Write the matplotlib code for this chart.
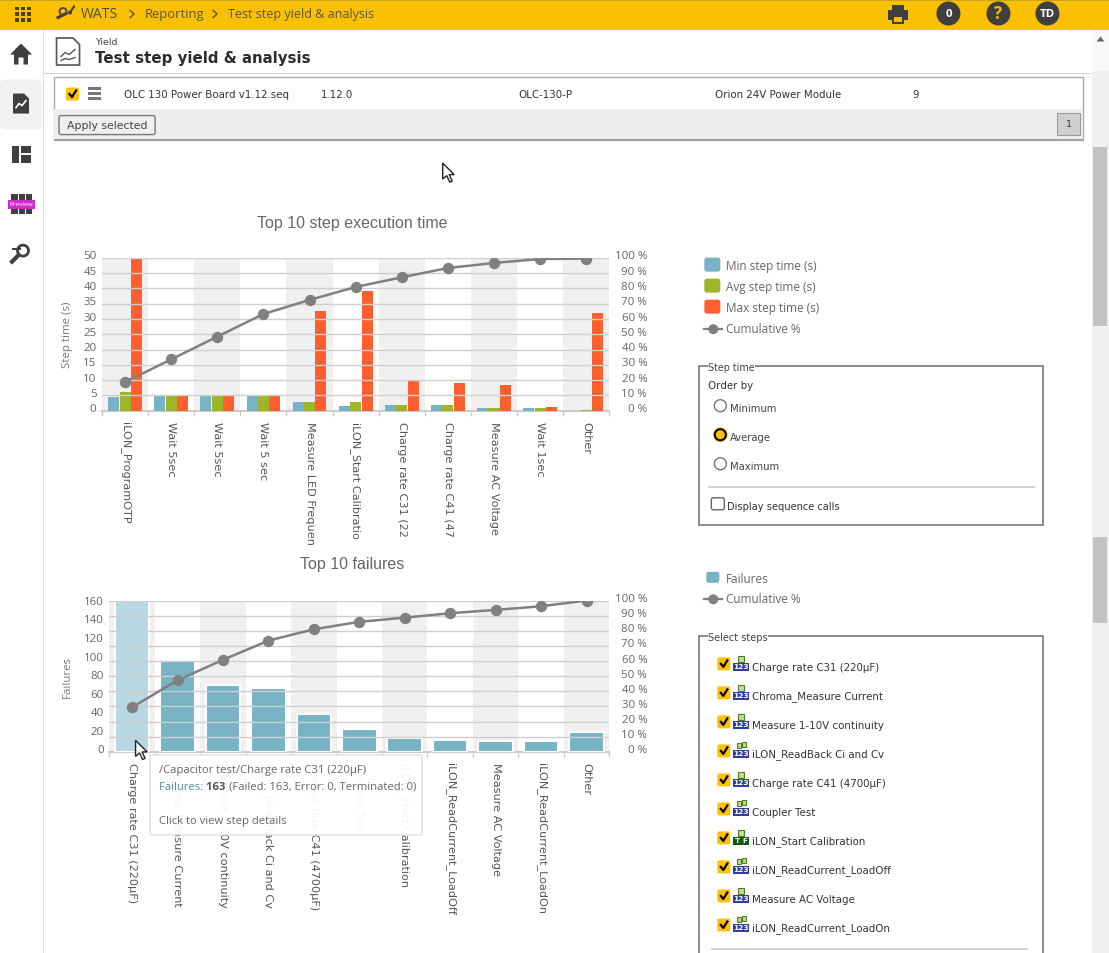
"""Test step yield and analysis page: two pareto charts inside the reporting UI."""
import matplotlib
matplotlib.use("Agg")
import matplotlib.pyplot as plt
from matplotlib.patches import Rectangle, Circle, Polygon, FancyBboxPatch
from matplotlib.transforms import ScaledTranslation

W, H = 1109, 953

# step time chart
time_labels = ["iLON_ProgramOTP", "Wait 5sec", "Wait 5sec", "Wait 5 sec", "Measure LED Frequen",
               "iLON_Start Calibratio", "Charge rate C31 (22", "Charge rate C41 (47",
               "Measure AC Voltage", "Wait 1sec", "Other"]
min_time = [4.6, 4.9, 4.9, 4.9, 2.9, 1.5, 1.9, 1.9, 0.9, 0.9, 0]
avg_time = [6.2, 4.9, 4.9, 4.9, 3.0, 2.8, 1.9, 1.9, 0.9, 0.9, 0.1]
max_time = [50, 5.0, 5.0, 5.0, 32.6, 39.2, 9.7, 9.2, 8.4, 1.2, 31.9]
time_cum = [18.8, 33.6, 48.5, 63.3, 72.5, 81, 87.3, 93.4, 96.7, 99.3, 99.6]
time_ticks = [0, 5, 10, 15, 20, 25, 30, 35, 40, 45, 50]

# failures chart
fail_labels = ["Charge rate C31 (220µF)", "Chroma_Measure Current", "Measure 1-10V continuity",
               "iLON_ReadBack Ci and Cv", "Charge rate C41 (4700µF)", "Coupler Test",
               "iLON_Start Calibration", "iLON_ReadCurrent_LoadOff", "Measure AC Voltage",
               "iLON_ReadCurrent_LoadOn", "Other"]
failures = [163, 98, 72, 69, 41, 25, 15, 13, 12, 12, 21]
fail_cum = [29.5, 47.3, 60.8, 73.5, 81, 85.9, 88.7, 91.6, 93.8, 96.2, 100]
fail_ticks = [0, 20, 40, 60, 80, 100, 120, 140, 160]
pct_ticks = [0, 10, 20, 30, 40, 50, 60, 70, 80, 90, 100]

select_steps = ["Charge rate C31 (220µF)", "Chroma_Measure Current", "Measure 1-10V continuity",
                "iLON_ReadBack Ci and Cv", "Charge rate C41 (4700µF)", "Coupler Test",
                "iLON_Start Calibration", "iLON_ReadCurrent_LoadOff", "Measure AC Voltage",
                "iLON_ReadCurrent_LoadOn"]
double_icon_steps = ["iLON_ReadBack Ci and Cv", "Coupler Test", "iLON_ReadCurrent_LoadOff", "iLON_ReadCurrent_LoadOn"]

TEAL, GREEN, ORANGE = "#78b3c5", "#9eb429", "#ff5f2e"
GOLD, DARK, GREY = "#f9c000", "#3f3f3f", "#808080"
NUM_FONT = "Open Sans"
UI_FONT = "DejaVu Sans"

# the extra half pixel stops matplotlib truncating the height to 952
fig = plt.figure(figsize=((W + 0.5) / 100, (H + 0.5) / 100), dpi=100, facecolor="white")
ui = fig.add_axes([0, 0, 1, 1], zorder=0)
ui.set_xlim(0, W); ui.set_ylim(H, 0); ui.axis("off")
top = fig.add_axes([0, 0, 1, 1], zorder=5)
top.set_xlim(0, W); top.set_ylim(H, 0); top.axis("off")


def px(size):
    return size * 0.72


def rect(x0, y0, x1, y1, color, edge="none", lw=0, ax=ui, **kw):
    ax.add_patch(Rectangle((x0, y0), x1 - x0, y1 - y0, facecolor=color, edgecolor=edge, linewidth=lw, **kw))


def text(x, y, s, size=10, color="#333333", font=UI_FONT, ax=ui, **kw):
    kw.setdefault("va", "center")
    return ax.text(x, y, s, fontsize=px(size), color=color, family=font, **kw)


def checkbox(x, y, ax=ui):
    ax.add_patch(FancyBboxPatch((x + 1, y + 1), 11, 11, boxstyle="round,pad=1,rounding_size=2",
                                facecolor="#fcc200", edgecolor="none"))
    ax.plot([x + 3.5, x + 6, x + 10], [y + 6.5, y + 9.5, y + 3], color="black", lw=1.6)


def cursor(x, y):
    pts = [(0, 0), (0, 16), (4, 12.5), (7, 19), (9.5, 18), (6.5, 11.5), (11.5, 11.5)]
    top.add_patch(Polygon([(x + a, y + b) for a, b in pts], closed=True, facecolor="white",
                          edgecolor="#222222", linewidth=1, zorder=20))


def pareto(box, ticks, ymax, labels, cum):
    x0, y0, x1, y1 = box
    ax = fig.add_axes([x0 / W, 1 - y1 / H, (x1 - x0) / W, (y1 - y0) / H], zorder=2)
    ax.patch.set_alpha(0)
    ax2 = ax.twinx()
    ax2.patch.set_alpha(0)
    n = len(labels)
    ax.set_xlim(-0.5, n - 0.5)
    ax.set_ylim(0, ymax)
    ax2.set_ylim(0, 100)
    for i in range(0, n, 2):
        ax.axvspan(i - 0.5, i + 0.5, color="#f0f0f0", lw=0, zorder=0)
    for p in pct_ticks[1:]:
        ax2.axhline(p, color="#cfcfcf", lw=1, zorder=0)
    ax.set_zorder(2); ax2.set_zorder(3)
    for s in ["top", "left", "right"]:
        ax.spines[s].set_visible(False)
        ax2.spines[s].set_visible(False)
    ax2.spines["bottom"].set_visible(False)
    ax.spines["bottom"].set_color("#cccccc")
    ax.spines["bottom"].set_linewidth(1.5)
    ax.set_xticks(range(n))
    ax.set_xticklabels(labels, rotation=270, fontsize=px(11.2), color="#555555", family=UI_FONT, ha="center", va="top")
    ax.set_xticks([i - 0.5 for i in range(n + 1)], minor=True)
    ax.tick_params(axis="x", which="major", length=0, pad=7.5)
    ax.tick_params(axis="x", which="minor", length=3.5, color="#cccccc", width=1)
    ax.set_yticks(ticks)
    ax.tick_params(axis="y", length=0, pad=4)
    ax2.set_yticks(pct_ticks)
    ax2.set_yticklabels([f"{p} %" for p in pct_ticks])
    ax2.tick_params(axis="y", length=0, pad=27.4)
    up = ScaledTranslation(0, 3 / 100, fig.dpi_scale_trans)
    for lab in ax.get_yticklabels():
        lab.set(fontsize=px(11.5), color="#666666", family=NUM_FONT)
        lab.set_transform(lab.get_transform() + up)
    for lab in ax2.get_yticklabels():
        lab.set(fontsize=px(11.5), color="#666666", family=NUM_FONT, ha="right")
        lab.set_transform(lab.get_transform() + up)
    ax2.plot(range(n), cum, color=GREY, lw=1.8, marker="o", ms=px(10), zorder=5)
    return ax


# top bar
rect(0, 0, W, 30, GOLD)
rect(0, 0, W, 1, "#c9a520")
for r in range(3):
    for c in range(3):
        rect(14.5 + c * 6, 7 + r * 5.6, 18.5 + c * 6, 10.8 + r * 5.6, "#4b4030")
ui.add_patch(Circle((63, 12), 3.5, facecolor="none", edgecolor="#4b4030", lw=1.3))
ui.plot([58, 66], [18, 14], color="#4b4030", lw=2.2)
ui.plot([70, 74], [13, 7], color="#4b4030", lw=1.5)
ui.add_patch(Circle((70, 13), 2, facecolor="#4b4030"))
text(81, 14.5, "WATS", 14, "#4e4a3c", "Open Sans")
text(145, 14.5, "Reporting", 13, "#5c5540", "Open Sans")
text(228, 14.5, "Test step yield & analysis", 12.5, "#5c5540", "Open Sans")
for cx in (132, 215):
    ui.plot([cx - 2, cx + 2, cx - 2], [11, 14.5, 18], color="#5c5540", lw=1)
# printer
rect(892, 5.5, 904, 10, DARK)
rect(888, 10, 908, 20, DARK)
rect(892, 15, 904, 24, DARK)
rect(894, 17, 902, 22, GOLD)
for cx, s, col in [(948, "0", "white"), (998, "?", GOLD), (1047, "TD", "white")]:
    ui.add_patch(Circle((cx, 14), 12, facecolor=DARK))
    text(cx, 14, s, 17 if s == "?" else 11.5, col, "Open Sans", ha="center", fontweight="bold")

# side menu
rect(43, 30, 44, H, "#e2e2e2")
ui.add_patch(FancyBboxPatch((2, 82), 38, 46, boxstyle="round,pad=2,rounding_size=5", facecolor="#f1f1f1", edgecolor="none"))
ui.add_patch(Polygon([(10, 55), (21, 44), (32, 55), (28, 55), (28, 65), (23.5, 65), (23.5, 58), (18.5, 58), (18.5, 65), (14, 65), (14, 55)], facecolor=DARK))
ui.add_patch(Polygon([(13, 94), (24, 94), (29, 99), (29, 114), (13, 114)], facecolor=DARK))
ui.plot([16, 19, 22, 26], [108, 104, 106, 101], color="white", lw=1.2)
for a, b, c, d in [(12, 146, 19, 163), (21, 146, 31, 153), (21, 155, 31, 163)]:
    rect(a, b, c, d, DARK)
rect(11, 194, 32, 214, DARK)
for gx in (18, 25):
    rect(gx, 194, gx + 1, 214, "white")
rect(8, 200, 35, 209, "#d22ad2")
text(21.5, 204.5, "Preview", 6.5, "white", "Open Sans", ha="center")
ui.add_patch(Circle((23, 251), 5.5, facecolor="none", edgecolor=DARK, lw=2))
ui.plot([18.5, 12], [255.5, 262], color=DARK, lw=3)
ui.plot([13, 20], [249, 249], color=DARK, lw=1.5)

# page header
ui.add_patch(Polygon([(56.5, 38.5), (73, 38.5), (79.5, 45), (79.5, 65.5), (56.5, 65.5)], facecolor="white", edgecolor="#555555", lw=1.2))
ui.plot([61, 65, 69, 75], [57, 53, 55, 50], color="#555555", lw=1)
ui.plot([61, 65, 69, 75], [61, 59, 60, 58], color="#555555", lw=1)
text(95, 42, "Yield", 9.5, "#444444")
text(95, 58.5, "Test step yield & analysis", 15, "#2c2c2c", fontweight="bold")
rect(44, 73, 1091, 74.5, "#d2d2d2")

# sequence table
rect(53.5, 77.5, 1083, 140, "white", "#aaaaaa", 1)
rect(54, 109, 1082.5, 139, "#eeeeee")
rect(53.5, 139, 1083, 140.5, "#999999")
checkbox(66, 88)
for by in (87.5, 92.5, 97.5):
    rect(88, by, 101, by + 2.8, "#777777")
for x, s in [(124, "OLC 130 Power Board v1.12.seq"), (321, "1.12.0"), (518, "OLC-130-P"),
             (715, "Orion 24V Power Module"), (912, "9")]:
    text(x, 94.5, s, 10.2, "#333333")
ui.add_patch(FancyBboxPatch((60, 117), 94, 17, boxstyle="round,pad=1,rounding_size=2", facecolor="#efefef", edgecolor="#777777", lw=1))
text(107, 126, "Apply selected", 10.9, "#444444", ha="center")
rect(1056.5, 113.5, 1080, 135, "#cfcfcf", "#999999", 0.8)
text(1068, 124.5, "1", 9.5, "#333333", ha="center")

# scrollbar
rect(1092, 30, W, H, "#f0f0f0")
rect(1092, 30, W, 71, "#f8f8f8")
ui.add_patch(Polygon([(1096, 42), (1104, 42), (1100, 37)], facecolor="#666666"))
rect(1093, 147, 1107, 326, "#c2c2c2")
rect(1093, 537, 1107, 623.5, "#c2c2c2")

# charts
ax1 = pareto((102, 258.3, 609, 411), time_ticks, 50, time_labels, time_cum)
cat = range(len(time_labels))
bar_w = 0.247
ax1.bar([i - bar_w for i in cat], min_time, bar_w * 0.97, color=TEAL, zorder=3)
ax1.bar(list(cat), avg_time, bar_w * 0.97, color=GREEN, zorder=3)
ax1.bar([i + bar_w for i in cat], max_time, bar_w * 0.97, color=ORANGE, zorder=3)

ax2 = pareto((109.3, 600.7, 609, 752), fail_ticks, 163, fail_labels, fail_cum)
bars = ax2.bar(range(len(failures)), failures, 0.76, color=TEAL, edgecolor="white", linewidth=1.5, zorder=3)
bars[0].set_facecolor("#b7d7e3")

text(352, 223, "Top 10 step execution time", 16, "#666666", "Liberation Sans", ha="center")
text(352, 564.5, "Top 10 failures", 16, "#666666", "Liberation Sans", ha="center")
text(67, 335, "Step time (s)", 11.5, "#777777", NUM_FONT, rotation=90, ha="center")
text(67, 677, "Failures", 11.5, "#777777", NUM_FONT, rotation=90, ha="center")


def legend_line(y, x0=704):
    ui.plot([x0, x0 + 18], [y, y], color=GREY, lw=1.6)
    ui.add_patch(Circle((x0 + 9, y), 5, facecolor=GREY))
    text(726, y, "Cumulative %", 11.7, "#666666", NUM_FONT)


# first legend and order panel
for y, col, s in [(265, TEAL, "Min step time (s)"), (286, GREEN, "Avg step time (s)"), (307, ORANGE, "Max step time (s)")]:
    ui.add_patch(FancyBboxPatch((705, y - 6), 14, 12, boxstyle="round,pad=1,rounding_size=2.5", facecolor=col, edgecolor="none"))
    text(726, y + 1.5, s, 11.7, "#666666", NUM_FONT)
legend_line(329.5)

rect(698.5, 366.5, 1043, 525, "white", "#777777", 1.2)
text(708, 367.5, "Step time", 9.7, "#444444", bbox=dict(facecolor="white", edgecolor="none", pad=0))
text(708, 385.5, "Order by", 10.2, "#333333")
for y, s in [(406, "Minimum"), (435, "Average"), (464, "Maximum")]:
    if s == "Average":
        ui.add_patch(Circle((720, y), 6.5, facecolor="#fcc200", edgecolor="#f5a000", lw=1))
        ui.add_patch(Circle((720, y), 5.5, facecolor="#fcc200", edgecolor="black", lw=1.4))
    else:
        ui.add_patch(Circle((720, y), 6, facecolor="white", edgecolor="#777777", lw=1))
    text(730, y + 2.5, s, 10, "#444444")
rect(708, 486.5, 1035, 488, "#d2d2d2")
ui.add_patch(FancyBboxPatch((712, 499), 11, 10, boxstyle="round,pad=1,rounding_size=2", facecolor="white", edgecolor="#666666", lw=1))
text(727, 506.5, "Display sequence calls", 9.9, "#333333")

# second legend and step selection
ui.add_patch(FancyBboxPatch((707, 573), 11, 9, boxstyle="round,pad=1,rounding_size=2", facecolor=TEAL, edgecolor="none"))
text(726, 579, "Failures", 11.7, "#666666", NUM_FONT)
legend_line(599.5)

rect(698.5, 636.5, 1043, H + 5, "white", "#777777", 1.2)
text(708, 637.5, "Select steps", 9.8, "#444444", bbox=dict(facecolor="white", edgecolor="none", pad=0))
for i, s in enumerate(select_steps):
    y = 667 + i * 29
    checkbox(717, y - 9.5)
    if s in double_icon_steps:
        rect(736.5, y - 11, 741, y - 6, "#c5d890", "#4f7f1c", 0.8)
        rect(741.5, y - 12, 746, y - 7, "#c5d890", "#4f7f1c", 0.8)
    else:
        rect(738, y - 11.3, 744, y - 5.3, "#c5d890", "#4f7f1c", 0.8)
    tf = s == "iLON_Start Calibration"
    rect(733, y - 3.8, 749, y + 3.8, "#0e5a0e" if tf else "#2f3f9f")
    text(741, y, "T F" if tf else "123", 7.5, "white", ha="center", fontweight="bold")
    text(752, y + 0.5, s, 10.2, "#333333")
rect(711, 948, 1028, 950, "#d2d2d2")

# tooltip over the second chart
top.add_patch(FancyBboxPatch((150, 755), 272, 80, boxstyle="round,pad=0,rounding_size=2", facecolor="white",
                             edgecolor="#dddddd", lw=1, alpha=0.94))
tip_size = 11.3
text(159, 770, "/Capacitor test/Charge rate C31 (220µF)", tip_size, "#666666", NUM_FONT, ax=top)
renderer = fig.canvas.get_renderer()
x = 159
for s, col, weight in [("Failures: ", "#4d8ba3", "normal"), ("163 ", "#555555", "bold"),
                       ("(Failed: 163, Error: 0, Terminated: 0)", "#666666", "normal")]:
    t = text(x, 787, s.replace(" ", "\u00a0"), tip_size, col, NUM_FONT, ax=top, fontweight=weight)
    x = t.get_window_extent(renderer).x1
text(159, 821, "Click to view step details", tip_size, "#666666", NUM_FONT, ax=top)

cursor(442.5, 163.5)
cursor(135.5, 740.5)

fig.savefig("out.png", dpi=100)
